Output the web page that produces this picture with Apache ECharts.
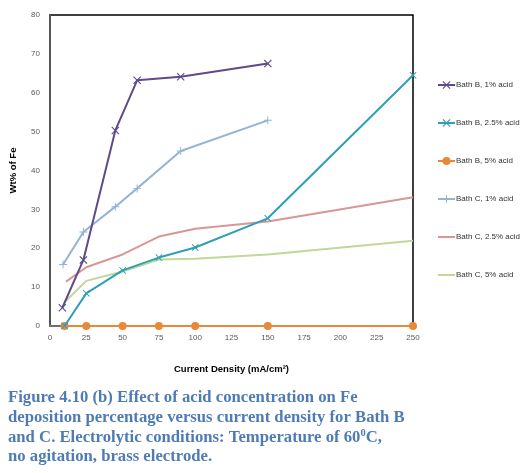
<!DOCTYPE html>
<html>
<head>
<meta charset="utf-8">
<script src="https://cdn.jsdelivr.net/npm/echarts@6/dist/echarts.min.js"></script>
<style>
  html, body { margin: 0; padding: 0; background: #fff; }
  #chart { width: 532px; height: 473px; }
</style>
</head>
<body>
<div id="chart"></div>
<script>
// data: [current density, wt% Fe]
var bathB1 = [[8.5, 4.7], [23, 17], [45, 50.3], [60, 63.2], [90, 64.1], [150, 67.5]];
var bathB25 = [[10, 0], [25, 8.4], [50, 14.3], [75, 17.6], [100, 20.2], [150, 27.7], [250, 64.5]];
var bathB5 = [[10, 0], [25, 0], [50, 0], [75, 0], [100, 0], [150, 0], [250, 0]];
var bathC1 = [[9, 15.8], [23, 24.2], [45, 30.7], [60, 35.4], [90, 45], [150, 52.9]];
var bathC25 = [[11, 11.4], [25, 15.1], [50, 18.4], [75, 23], [100, 25], [150, 26.9], [250, 33.1]];
var bathC5 = [[10, 6.1], [25, 11.6], [50, 14], [75, 17.1], [100, 17.3], [150, 18.4], [250, 21.9]];

var seriesNames = ["Bath B, 1% acid", "Bath B, 2.5% acid", "Bath B, 5% acid",
                   "Bath C, 1% acid", "Bath C, 2.5% acid", "Bath C, 5% acid"];
var seriesColors = ["#5f4a8b", "#2f9fb5", "#e8893a", "#95b3d7", "#d99694", "#c3d69b"];

var xTicks = { min: 0, max: 250, interval: 25 };
var yTicks = { min: 0, max: 80, interval: 10 };

// 细的 x 和 + 标记
var crossSym = "path://M0,1L1,0L5,4L9,0L10,1L6,5L10,9L9,10L5,6L1,10L0,9L4,5Z";
var plusSym = "path://M4.4,0H5.6V4.4H10V5.6H5.6V10H4.4V5.6H0V4.4H4.4Z";

var myChart = echarts.init(document.getElementById("chart"));

function mkLine(i, data, symbol, size) {
  return {
    name: seriesNames[i],
    type: "line",
    data: data,
    symbol: symbol,
    symbolSize: size,
    showSymbol: size > 0,
    lineStyle: { color: seriesColors[i], width: 2 },
    itemStyle: { color: seriesColors[i] },
    emphasis: { disabled: true },
    z: 10 - i
  };
}

// 图例: 没有标记的两条线只画线
var legendData = seriesNames.map(function(n, i) {
  if (i >= 4) return { name: n, itemStyle: { opacity: 0 } };
  return { name: n };
});

var option = {
  animation: false,
  grid: {
    left: 48, right: 119, top: 15, bottom: 147,
    show: true, borderColor: "#000", borderWidth: 1.5
  },
  legend: {
    orient: "vertical",
    left: 432,
    top: 75,
    itemGap: 28,
    itemWidth: 17,
    itemHeight: 10,
    textStyle: { fontFamily: "Liberation Sans Narrow, Liberation Sans", fontSize: 8, color: "#333", lineHeight: 10, padding: [0, 0, 0, -4] },
    data: legendData
  },
  xAxis: {
    type: "value",
    min: xTicks.min, max: xTicks.max, interval: xTicks.interval,
    name: "Current Density (mA/cm²)",
    nameLocation: "middle",
    nameGap: 38,
    nameTextStyle: { fontFamily: "Liberation Sans", fontWeight: "bold", fontSize: 9.5, color: "#000" },
    axisLine: { show: true, lineStyle: { color: "#7f7f7f", width: 1.5 } },
    axisTick: { show: false },
    axisLabel: { fontFamily: "Liberation Sans", fontSize: 8, color: "#595959", margin: 8 },
    splitLine: { show: false }
  },
  yAxis: {
    type: "value",
    min: yTicks.min, max: yTicks.max, interval: yTicks.interval,
    name: "Wt% of Fe",
    nameLocation: "middle",
    nameGap: 32,
    nameTextStyle: { fontFamily: "Liberation Sans", fontWeight: "bold", fontSize: 9.5, color: "#000" },
    axisLine: { show: true, lineStyle: { color: "#555", width: 2 } },
    axisTick: { show: false },
    axisLabel: { fontFamily: "Liberation Sans", fontSize: 8, color: "#595959", margin: 10 },
    splitLine: { show: false }
  },
  graphic: [{
    type: "text",
    left: 8,
    top: 388,
    style: {
      text: "Figure 4.10 (b) Effect of acid concentration on Fe\n" +
            "deposition percentage versus current density for Bath B\n" +
            "and C. Electrolytic conditions: Temperature of 60{sup|0}C,\n" +
            "no agitation, brass electrode.",
      font: "bold 16.7px 'Liberation Serif'",
      fill: "#4f7bb5",
      lineHeight: 19.7,
      rich: {
        sup: { font: "bold 10.5px 'Liberation Serif'", fill: "#4f7bb5", verticalAlign: "top", lineHeight: 19.7, padding: [0, 0, 8, 0] }
      }
    }
  }],
  series: [
    mkLine(0, bathB1, crossSym, 8),
    mkLine(1, bathB25, crossSym, 7),
    mkLine(2, bathB5, "circle", 8),
    mkLine(3, bathC1, plusSym, 8),
    mkLine(4, bathC25, "circle", 0),
    mkLine(5, bathC5, "circle", 0)
  ]
};

myChart.setOption(option);
window.addEventListener("resize", function() {
  myChart.resize();
});
</script>
</body>
</html>
